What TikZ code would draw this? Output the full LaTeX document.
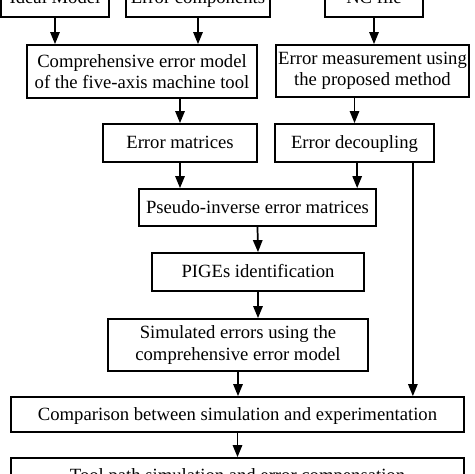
\documentclass[tikz,border=0pt]{standalone}
\usepackage{fontspec}
\setmainfont{Liberation Serif}
\usetikzlibrary{arrows.meta}
\begin{document}
\begin{tikzpicture}[x=0.75pt,y=-0.75pt,
  box/.style={draw,line width=1.3pt,rectangle,inner sep=0pt,align=center,
    font=\fontsize{14}{16}\selectfont},
  one/.style={box,text height=10.8pt,text depth=2pt},
  arr/.style={line width=1.3pt,-{Triangle[length=9pt,width=7pt]}}]
\useasboundingbox (0,0) rectangle (474,474);
\node[one,minimum width=81pt,minimum height=28.5pt] (ideal) at (55,-2) {Ideal Model};
\node[one,minimum width=108pt,minimum height=28.5pt] (errc) at (198,-2) {Error components};
\node[one,minimum width=73.5pt,minimum height=28.5pt] (nc) at (374,-2) {NC file};
\node[box,minimum width=172.5pt,minimum height=39.75pt] (comp) at (142,71.5) {Comprehensive error model\\of the five-axis machine tool};
\node[box,minimum width=144.75pt,minimum height=39pt] (meas) at (372.5,71) {Error measurement using\\the proposed method};
\node[one,minimum width=115.5pt,minimum height=28.5pt] (mat) at (180,143) {Error matrices};
\node[one,minimum width=119.25pt,minimum height=28.5pt] (dec) at (354.5,143) {Error decoupling};
\node[one,minimum width=177.75pt,minimum height=27.75pt] (pseudo) at (257.5,207.5) {Pseudo-inverse error matrices};
\node[one,minimum width=159pt,minimum height=28.5pt] (piges) at (258,272) {PIGEs identification};
\node[box,minimum width=195pt,minimum height=39pt] (sim) at (238,345) {Simulated errors using the\\comprehensive error model};
\node[one,minimum width=339.75pt,minimum height=26.25pt] (cmpr) at (237.5,414.5) {Comparison between simulation and experimentation};
\node[one,minimum width=339.75pt,minimum height=26.25pt] (final) at (237.5,475.5) {Tool path simulation and error compensation};
\coordinate (decr) at ([xshift=-16.5pt]dec.south east);
\draw[arr] (ideal.south) -- (ideal.south |- comp.north);
\draw[arr] (errc.south) -- (errc.south |- comp.north);
\draw[arr] (nc.south) -- (nc.south |- meas.north);
\draw[arr] (mat.north |- comp.south) -- (mat.north);
\draw[arr] (dec.north |- meas.south) -- (dec.north);
\draw[arr] (mat.south) -- (mat.south |- pseudo.north);
\draw[arr] ([xshift=2pt]dec.south) -- ([xshift=2pt]dec.south |- pseudo.north);
\draw[arr] (decr) -- (decr |- cmpr.north);
\draw[arr] (pseudo.south) -- (piges.north);
\draw[arr] (piges.south) -- (piges.south |- sim.north);
\draw[arr] (sim.south) -- (sim.south |- cmpr.north);
\draw[arr] (cmpr.south) -- (final.north);
\end{tikzpicture}
\end{document}
